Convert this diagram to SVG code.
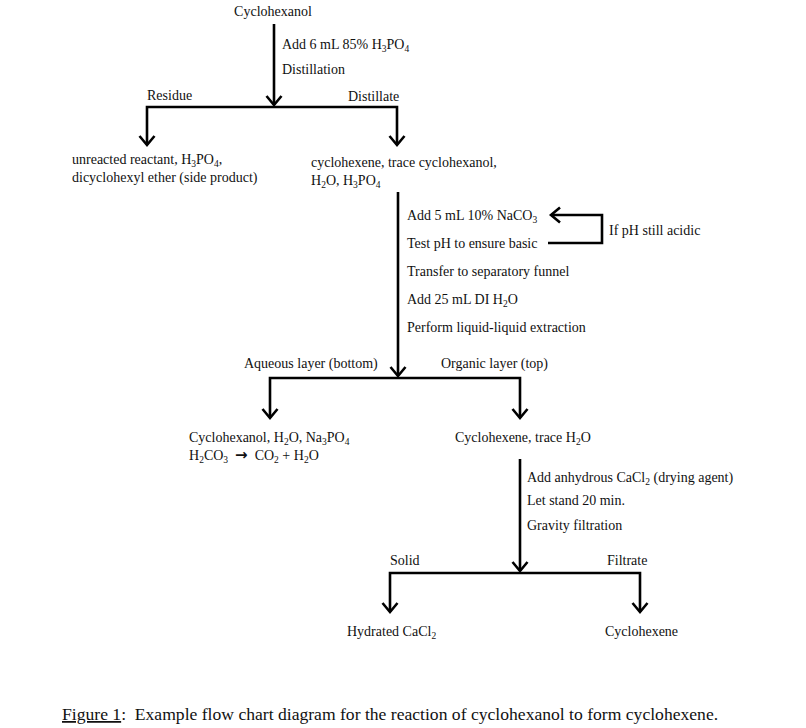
<svg xmlns="http://www.w3.org/2000/svg" width="806" height="728" viewBox="0 0 806 728">
<style>
text{font-family:"Liberation Serif","Times New Roman",serif;font-size:14px;fill:#111;white-space:pre}
.s{font-size:9.5px}
.cap{font-size:17.6px}
.arw{font-family:"DejaVu Sans",sans-serif;font-size:15px;font-weight:bold}
.ln{fill:none;stroke:#000;stroke-width:2.6;stroke-linejoin:miter}
.ar{marker-end:url(#ah)}
</style>
<defs>
<marker id="ah" markerUnits="userSpaceOnUse" viewBox="-12 -10 14 20" refX="0" refY="0" markerWidth="14" markerHeight="20" orient="auto" overflow="visible">
<path d="M-9,-7.5 L0,0 L-9,7.5" fill="none" stroke="#000" stroke-width="2.6" stroke-linejoin="miter" stroke-miterlimit="10"/>
</marker>
</defs>
<rect width="806" height="728" fill="#fff"/>
<g id="connectors">
<path class="ln ar" d="M274,24 V105"/>
<path class="ln ar" d="M274,107 H147 V145"/>
<path class="ln ar" d="M274,107 H397 V145"/>
<path class="ln ar" d="M398,192 V376"/>
<path class="ln ar" d="M398,378 H270 V418"/>
<path class="ln ar" d="M398,378 H520 V418"/>
<path class="ln ar" d="M548,243 H602 V215 H551"/>
<path class="ln ar" d="M520,459 V571"/>
<path class="ln ar" d="M520,573 H390 V612"/>
<path class="ln ar" d="M520,573 H640 V612"/>
</g>
<g id="n-cyclohexanol"><text x="273" y="16" text-anchor="middle">Cyclohexanol</text></g>
<g id="step1">
<text x="282" y="49">Add 6 mL 85% H<tspan class="s" dy="2.5">3</tspan><tspan dy="-2.5">PO</tspan><tspan class="s" dy="2.5">4</tspan></text>
<text x="282" y="74">Distillation</text>
</g>
<g id="lbl-residue"><text x="147" y="100">Residue</text></g>
<g id="lbl-distillate"><text x="348" y="101">Distillate</text></g>
<g id="n-residue">
<text x="72" y="164">unreacted reactant, H<tspan class="s" dy="2.5">3</tspan><tspan dy="-2.5">PO</tspan><tspan class="s" dy="2.5">4</tspan><tspan dy="-2.5">,</tspan></text>
<text x="72" y="182">dicyclohexyl ether (side product)</text>
</g>
<g id="n-distillate">
<text x="311" y="167">cyclohexene, trace cyclohexanol,</text>
<text x="311" y="185">H<tspan class="s" dy="2.5">2</tspan><tspan dy="-2.5">O, H</tspan><tspan class="s" dy="2.5">3</tspan><tspan dy="-2.5">PO</tspan><tspan class="s" dy="2.5">4</tspan></text>
</g>
<g id="step2">
<text x="407" y="220">Add 5 mL 10% NaCO<tspan class="s" dy="2.5">3</tspan></text>
<text x="407" y="248">Test pH to ensure basic</text>
<text x="407" y="276">Transfer to separatory funnel</text>
<text x="407" y="304">Add 25 mL DI H<tspan class="s" dy="2.5">2</tspan><tspan dy="-2.5">O</tspan></text>
<text x="407" y="332">Perform liquid-liquid extraction</text>
</g>
<g id="lbl-loop"><text x="609" y="235">If pH still acidic</text></g>
<g id="lbl-aqueous"><text x="244" y="368">Aqueous layer (bottom)</text></g>
<g id="lbl-organic"><text x="441" y="368">Organic layer (top)</text></g>
<g id="n-aqueous">
<text x="189" y="442">Cyclohexanol, H<tspan class="s" dy="2.5">2</tspan><tspan dy="-2.5">O, Na</tspan><tspan class="s" dy="2.5">3</tspan><tspan dy="-2.5">PO</tspan><tspan class="s" dy="2.5">4</tspan></text>
<text x="189" y="460">H<tspan class="s" dy="2.5">2</tspan><tspan dy="-2.5">CO</tspan><tspan class="s" dy="2.5">3</tspan><tspan dy="-2.5">  </tspan><tspan class="arw">→</tspan><tspan>  CO</tspan><tspan class="s" dy="2.5">2</tspan><tspan dy="-2.5"> + H</tspan><tspan class="s" dy="2.5">2</tspan><tspan dy="-2.5">O</tspan></text>
</g>
<g id="n-organic">
<text x="455" y="442">Cyclohexene, trace H<tspan class="s" dy="2.5">2</tspan><tspan dy="-2.5">O</tspan></text>
</g>
<g id="step3">
<text x="527" y="482">Add anhydrous CaCl<tspan class="s" dy="2.5">2</tspan><tspan dy="-2.5"> (drying agent)</tspan></text>
<text x="527" y="505">Let stand 20 min.</text>
<text x="527" y="530">Gravity filtration</text>
</g>
<g id="lbl-solid"><text x="390" y="565">Solid</text></g>
<g id="lbl-filtrate"><text x="607" y="565">Filtrate</text></g>
<g id="n-hydrated"><text x="347" y="636">Hydrated CaCl<tspan class="s" dy="2.5">2</tspan></text></g>
<g id="n-cyclohexene"><text x="605" y="636">Cyclohexene</text></g>
<g id="caption"><text class="cap" x="62" y="720"><tspan text-decoration="underline">Figure 1</tspan>:  Example flow chart diagram for the reaction of cyclohexanol to form cyclohexene.</text></g>
</svg>
